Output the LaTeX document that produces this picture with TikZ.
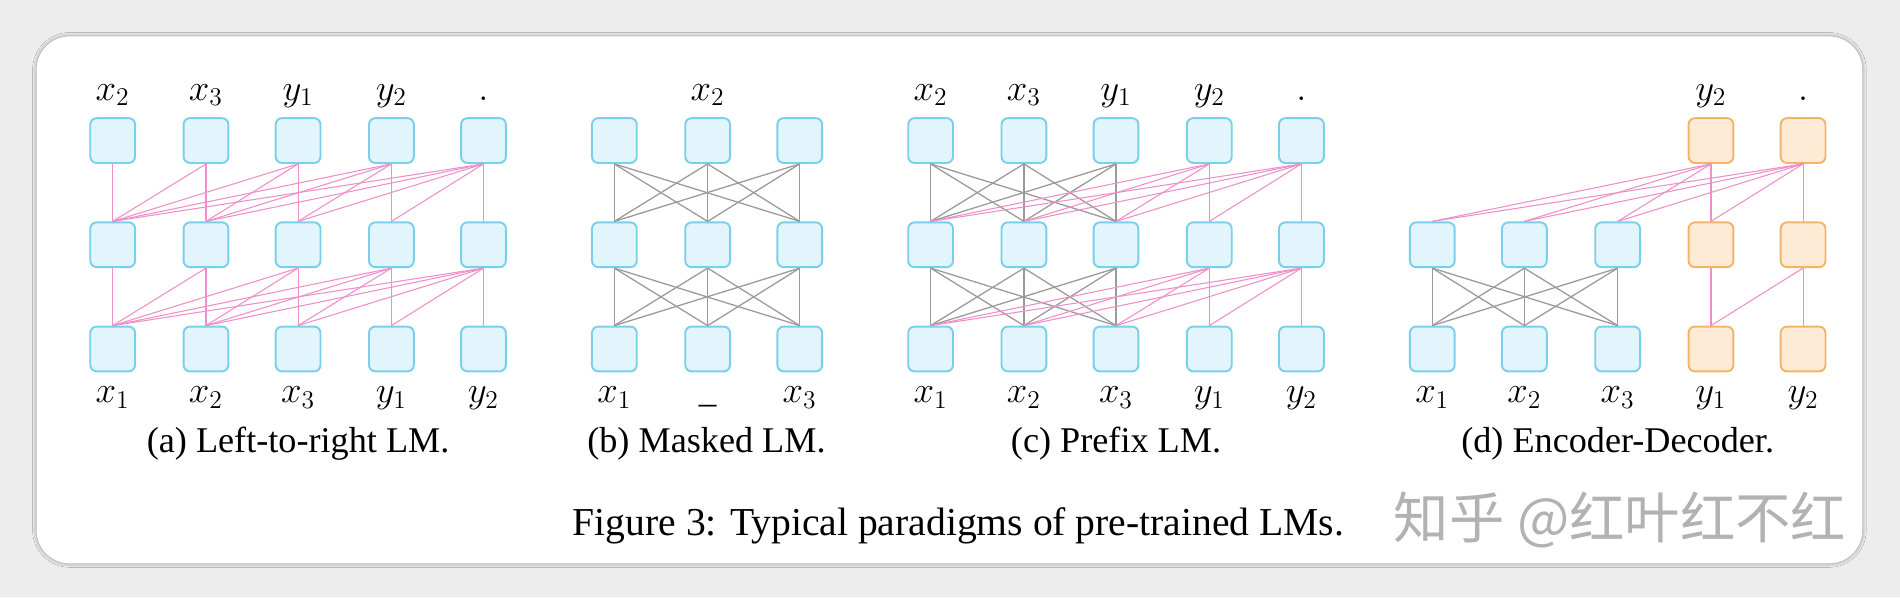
\documentclass[tikz,border=0pt]{standalone}
\usepackage{fontspec}
\setmainfont{Liberation Serif}
\newfontfamily\cjk{Noto Sans CJK SC}
\usetikzlibrary{shadows.blur}
\definecolor{bfill}{HTML}{E2F4FC}
\definecolor{bdraw}{HTML}{7ACFEA}
\definecolor{ofill}{HTML}{FDEBD6}
\definecolor{odraw}{HTML}{F3B46A}
\definecolor{pk}{HTML}{EE8FCB}
\definecolor{gr}{HTML}{9A9A9A}
\begin{document}
\begin{tikzpicture}[x=0.02cm,y=-0.02cm,
  cell/.style={draw=bdraw,fill=bfill,line width=0.9pt,rounded corners=3pt,minimum width=0.74cm,minimum height=0.74cm,inner sep=0pt},
  ocell/.style={cell,draw=odraw,fill=ofill},
  pl/.style={pk,line width=0.5pt},
  gl/.style={gr,line width=0.6pt},
  lab/.style={font=\fontsize{16.5}{18}\selectfont},
  captext/.style={font=\fontsize{17}{20}\selectfont}]
\fill[white!93!black] (0,0) rectangle (1568,493);
\useasboundingbox (0,0) rectangle (1568,493);
\node[fill=white,rounded corners=0.55cm,minimum width=30.14cm,minimum height=8.7cm,blur shadow={shadow blur steps=8,shadow xshift=0pt,shadow yshift=0pt,shadow blur extra rounding=2pt}] (card) at (783.5,247.5) {};
\foreach \c/\x in {1/93,2/170,3/246,4/323,5/399}
  \foreach \r/\y in {1/288,2/202,3/116}
    \node[cell] (a\r\c) at (\x,\y) {};
\foreach \c/\x in {1/93,2/170,3/246}
  \foreach \r/\y in {1/288,2/202,3/116}
    \node[cell] (b\r\c) at (\x+414,\y) {};
\foreach \c/\x in {1/768,2/845,3/921,4/998,5/1074}
  \foreach \r/\y in {1/288,2/202,3/116}
    \node[cell] (c\r\c) at (\x,\y) {};
\foreach \c/\x in {1/1182,2/1258,3/1335}
  \foreach \r/\y in {1/288,2/202}
    \node[cell] (d\r\c) at (\x,\y) {};
\foreach \c/\x in {4/1412,5/1488}
  \foreach \r/\y in {1/288,2/202,3/116}
    \node[ocell] (d\r\c) at (\x,\y) {};
\foreach \r/\s in {1/2,2/3}{
  \foreach \j in {1,...,5}
    \foreach \i in {1,...,\j}
      \draw[pl] (a\r\i.north) -- (a\s\j.south);
  \foreach \j in {1,2,3}
    \foreach \i in {1,2,3}
      \draw[gl] (b\r\i.north) -- (b\s\j.south);
  \foreach \j in {1,2,3}
    \foreach \i in {1,2,3}
      \draw[gl] (c\r\i.north) -- (c\s\j.south);
  \foreach \j in {4,5}
    \foreach \i in {1,...,\j}
      \draw[pl] (c\r\i.north) -- (c\s\j.south);
}
\foreach \j in {1,2,3}
  \foreach \i in {1,2,3}
    \draw[gl] (d1\i.north) -- (d2\j.south);
\foreach \j in {4,5}
  \foreach \i in {1,...,\j}
    \draw[pl] (d2\i.north) -- (d3\j.south);
\draw[pl] (d14.north) -- (d24.south);
\draw[pl] (d14.north) -- (d25.south);
\draw[pl] (d15.north) -- (d25.south);
\foreach \p/\c/\t in {a/1/x_2,a/2/x_3,a/3/y_1,a/4/y_2,a/5/.,b/2/x_2,c/1/x_2,c/2/x_3,c/3/y_1,c/4/y_2,c/5/.,d/4/y_2,d/5/.}
  \node[lab,anchor=base] (t\p\c) at ([yshift=0.28cm]\p3\c.north) {$\t$};
\foreach \p/\c/\t in {a/1/x_1,a/2/x_2,a/3/x_3,a/4/y_1,a/5/y_2,b/1/x_1,b/2/\_,b/3/x_3,c/1/x_1,c/2/x_2,c/3/x_3,c/4/y_1,c/5/y_2,d/1/x_1,d/2/x_2,d/3/x_3,d/4/y_1,d/5/y_2}
  \node[lab,anchor=base] (u\p\c) at ([yshift=-0.5cm]\p1\c.south) {$\t$};
\node[captext] (ca) at (246,366) {(a) Left-to-right LM.};
\node[captext] (cb) at (583,366) {(b) Masked LM.};
\node[captext] (cc) at (921,366) {(c) Prefix LM.};
\node[captext] (cd) at (1335,366) {(d) Encoder-Decoder.};
\node[font=\fontsize{18.6}{21}\selectfont] (fig) at (791,434) {Figure 3: Typical paradigms of pre-trained LMs.};
\node[font=\cjk\fontsize{26}{30}\selectfont,text=black!30] (wm) at (1337,429) {知乎 @红叶红不红};
\end{tikzpicture}
\end{document}
